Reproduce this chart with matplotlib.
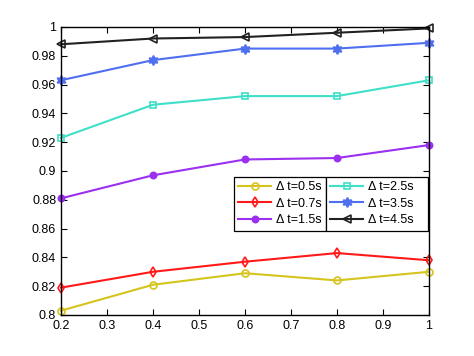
##################################################
# imports
##################################################

import matplotlib
matplotlib.use('Agg')
import matplotlib.pyplot as plt

##################################################
# data
##################################################

x = [0.2, 0.4, 0.6, 0.8, 1.0]

acc_05 = [0.803, 0.821, 0.829, 0.824, 0.830]
acc_07 = [0.819, 0.830, 0.837, 0.843, 0.838]
acc_15 = [0.881, 0.897, 0.908, 0.909, 0.918]
acc_25 = [0.923, 0.946, 0.952, 0.952, 0.963]
acc_35 = [0.963, 0.977, 0.985, 0.985, 0.989]
acc_45 = [0.988, 0.992, 0.993, 0.996, 0.999]

labels = ['\u0394 t=0.5s', '\u0394 t=0.7s', '\u0394 t=1.5s',
          '\u0394 t=2.5s', '\u0394 t=3.5s', '\u0394 t=4.5s']

xticks = [0.2, 0.3, 0.4, 0.5, 0.6, 0.7, 0.8, 0.9, 1.0]
yticks = [0.8, 0.82, 0.84, 0.86, 0.88, 0.9, 0.92, 0.94, 0.96, 0.98, 1.0]

##################################################
# plot
##################################################

plt.rcParams['font.family'] = ['Liberation Sans', 'DejaVu Sans']

fig = plt.figure(figsize=(4.74, 3.56), dpi=100)
ax = fig.add_axes([0.1287, 0.1152, 0.7763, 0.8090])

styles = [
    dict(color='#d4c41c', marker='o', mfc='none', ms=5),
    dict(color='#ff1a1a', marker='d', mfc='none', ms=5.5),
    dict(color='#9b30f0', marker='o', mfc='#9b30f0', ms=4.5),
    dict(color='#40dfc8', marker='s', mfc='none', ms=4.5),
    dict(color='#4f6ef0', marker=(6, 1, 0), mfc='#4f6ef0', ms=7),
    dict(color='#222222', marker='<', mfc='none', ms=6),
]

series = [acc_05, acc_07, acc_15, acc_25, acc_35, acc_45]
handles = []
for ys, st, lab in zip(series, styles, labels):
    h, = ax.plot(x, ys, lw=1.5, mew=1.2, clip_on=False, label=lab, **st)
    handles.append(h)

ax.set_xlim(0.2, 1.0)
ax.set_ylim(0.8, 1.0)
ax.set_xticks(xticks)
ax.set_xticklabels(['%g' % v for v in xticks])
ax.set_yticks(yticks)
ax.set_yticklabels(['%g' % v for v in yticks])
ax.tick_params(direction='in', top=True, right=True, labelsize=9, length=4, width=0.8)
for sp in ax.spines.values():
    sp.set_linewidth(1.0)

# two framed halves, like the matlab legend with a divider
leg_kw = dict(fontsize=9, frameon=True, fancybox=False, framealpha=1,
              edgecolor='black', handlelength=2.6, handletextpad=0.4,
              borderpad=0.35, labelspacing=0.35, borderaxespad=0)
leg1 = ax.legend(handles=handles[:3], loc='lower left',
                 bbox_to_anchor=(0.470, 0.293, 0.250, 0.190), mode='expand', **leg_kw)
leg1.get_frame().set_linewidth(0.9)
ax.add_artist(leg1)
leg2 = ax.legend(handles=handles[3:], loc='lower left',
                 bbox_to_anchor=(0.720, 0.293, 0.277, 0.190), mode='expand', **leg_kw)
leg2.get_frame().set_linewidth(0.9)

plt.savefig('out.png', dpi=100)
plt.close()
